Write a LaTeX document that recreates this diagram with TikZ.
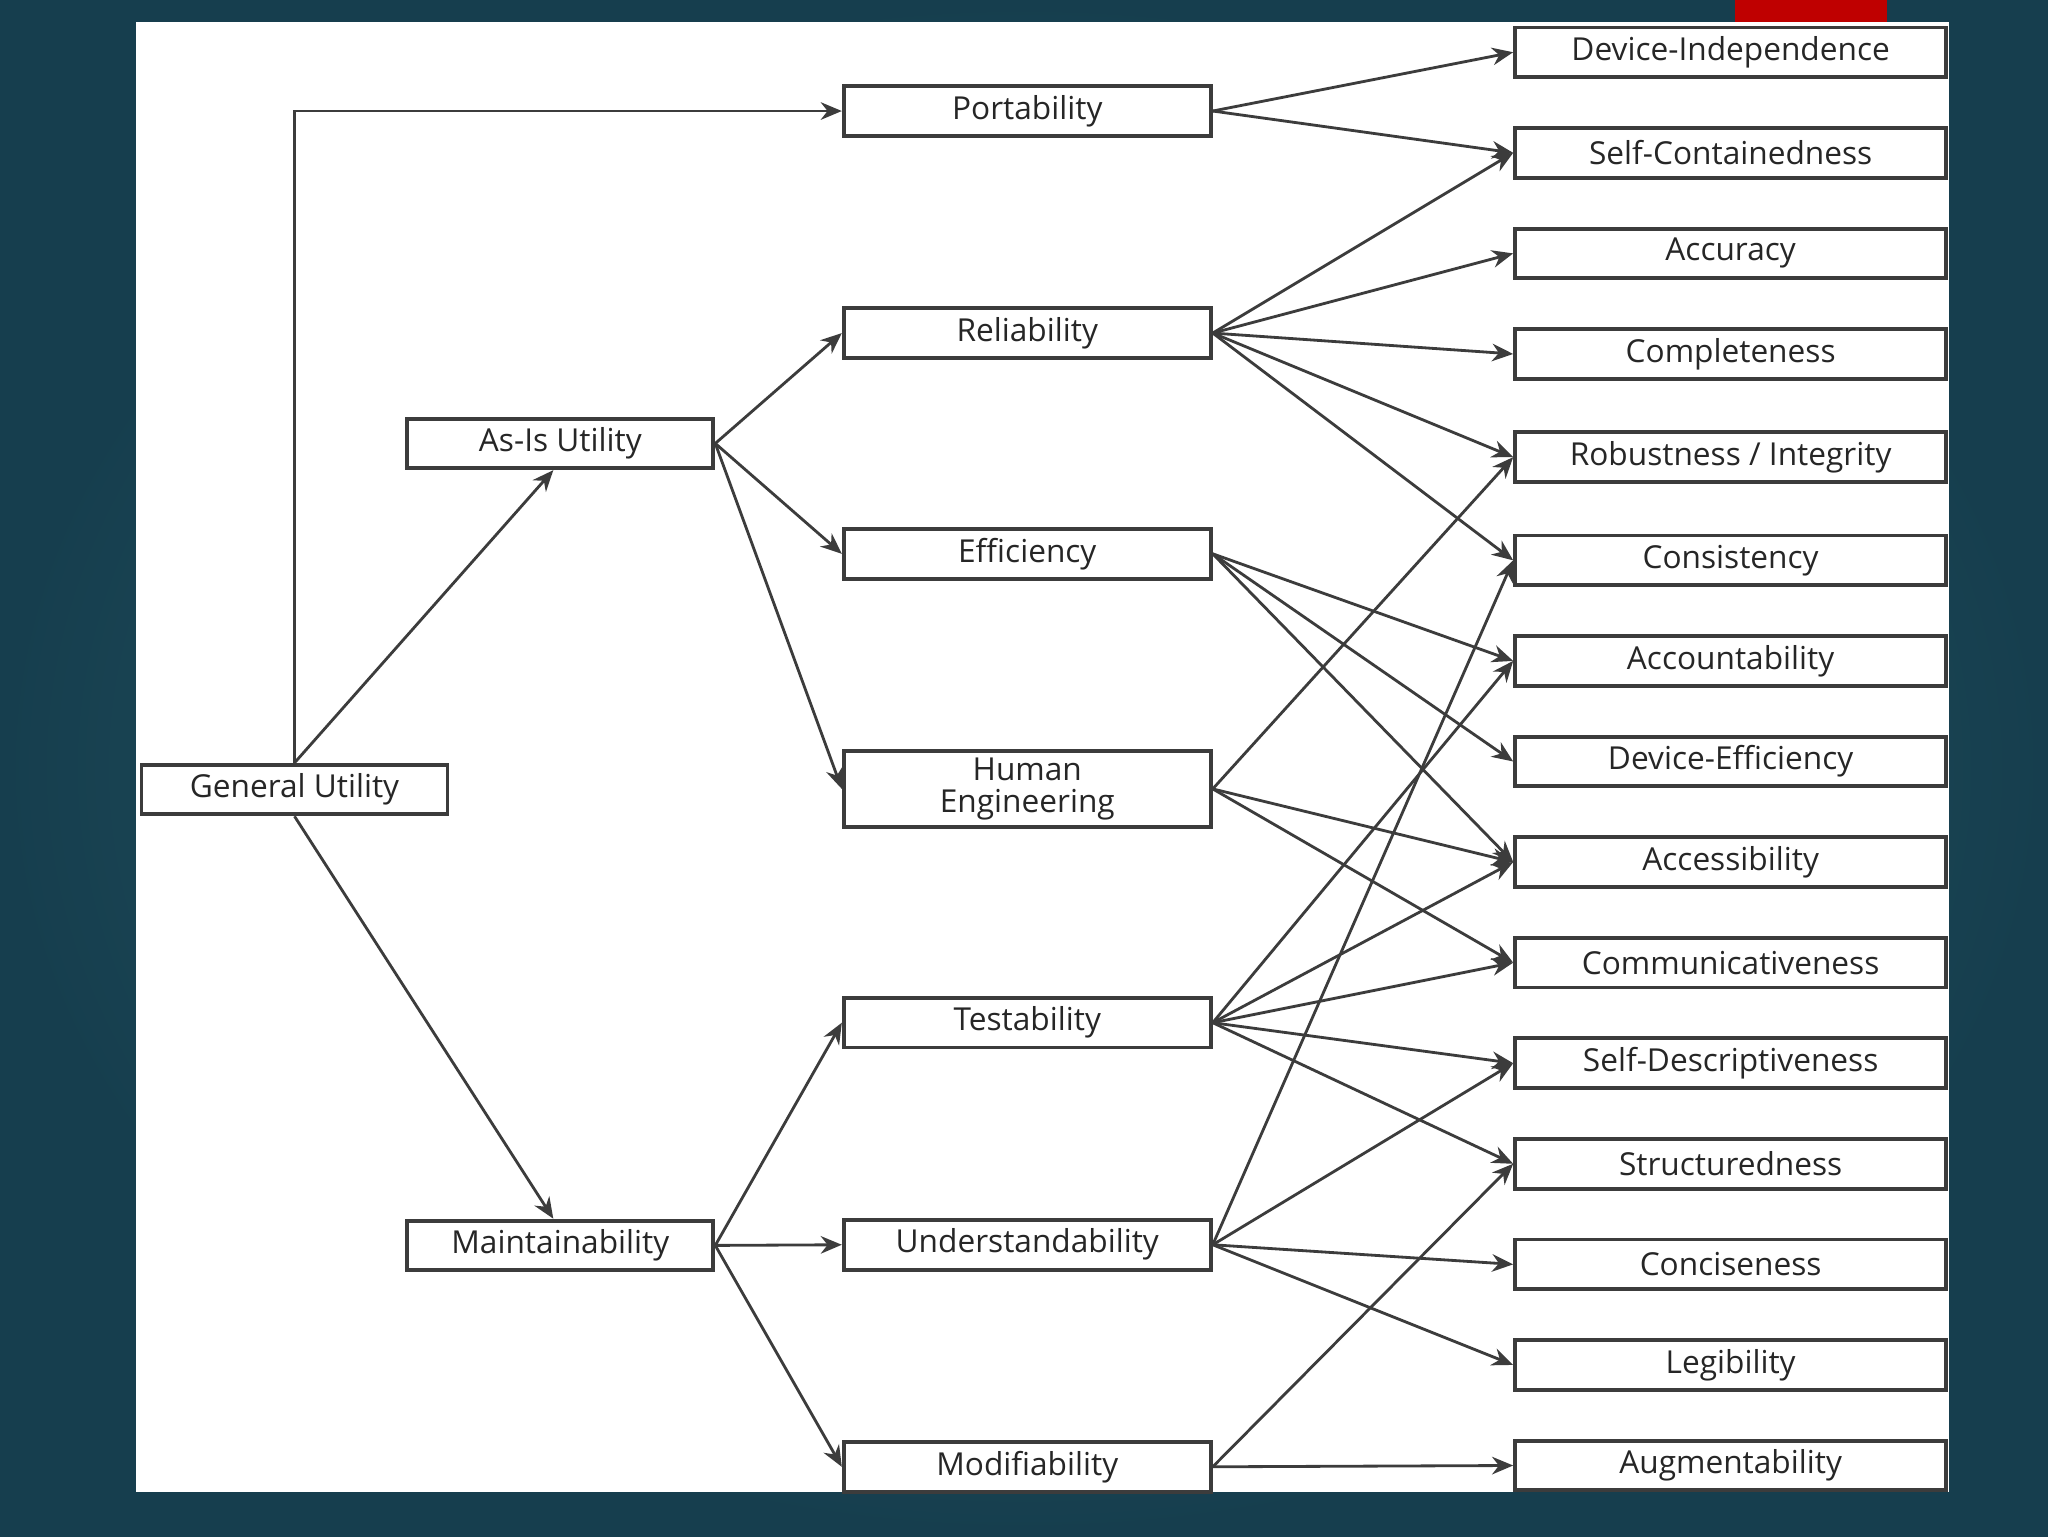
\documentclass[tikz,border=0pt]{standalone}
\usepackage{fontspec}
\setmainfont{Open Sans}
\usetikzlibrary{arrows.meta}
\definecolor{bgdark}{RGB}{22,62,78}
\definecolor{bglight}{RGB}{40,95,105}
\definecolor{edge}{RGB}{60,60,60}
\begin{document}
\begin{tikzpicture}[x=0.1306mm,y=-0.1306mm,
  box/.style={draw=edge,line width=1.1pt,fill=white,rectangle,inner sep=0pt,
    font=\fontsize{9}{10}\selectfont,text=black!85,align=center},
  lbox/.style={box,minimum width=30.6mm,minimum height=4.96mm},
  mbox/.style={box,minimum width=36.7mm,minimum height=4.96mm},
  rbox/.style={box,minimum width=43.1mm,minimum height=4.96mm},
  arr/.style={draw=edge,line width=0.8pt,-{Stealth[length=6pt,width=5pt]}}]
\useasboundingbox (0,0) rectangle (1568,1176);
\shade[inner color=bglight,outer color=bgdark] (0,0) rectangle (1568,1176);
\fill[white] (104,17) rectangle (1492,1142);
\fill[red!75!black] (1328,0) rectangle (1445,17);
% nodes
\node[lbox] (gu) at (225.5,604.5) {General Utility};
\node[lbox] (asis) at (429,339.5) {As-Is Utility};
\node[lbox] (maint) at (429,953.5) {Maintainability};
\node[mbox] (port) at (786.5,85) {Portability};
\node[mbox] (rel) at (786.5,255) {Reliability};
\node[mbox] (eff) at (786.5,424) {Efficiency};
\node[mbox,minimum height=7.6mm] (he) at (786.5,604) {Human\\[-1pt]Engineering};
\node[mbox] (test) at (786.5,783) {Testability};
\node[mbox] (und) at (786.5,953) {Understandability};
\node[mbox] (mod) at (786.5,1123) {Modifiability};
\node[rbox] (di) at (1325,40) {Device-Independence};
\node[rbox] (sc) at (1325,117) {Self-Containedness};
\node[rbox] (acc) at (1325,194) {Accuracy};
\node[rbox] (comp) at (1325,271) {Completeness};
\node[rbox] (rob) at (1325,350) {Robustness / Integrity};
\node[rbox] (cons) at (1325,429) {Consistency};
\node[rbox] (acct) at (1325,506) {Accountability};
\node[rbox] (deff) at (1325,583) {Device-Efficiency};
\node[rbox] (access) at (1325,660) {Accessibility};
\node[rbox] (comm) at (1325,737) {Communicativeness};
\node[rbox] (sd) at (1325,814) {Self-Descriptiveness};
\node[rbox] (struct) at (1325,891) {Structuredness};
\node[rbox] (conc) at (1325,968) {Conciseness};
\node[rbox] (leg) at (1325,1045) {Legibility};
\node[rbox] (aug) at (1325,1122) {Augmentability};
% left edges
\draw[arr] (gu.north) |- (port.west);
\draw[arr] (gu.north) -- ([xshift=-2pt]asis.south);
\draw[arr] (gu.south) -- ([xshift=-2pt]maint.north);
\foreach \t in {rel,eff,he} \draw[arr] (asis.east) -- (\t.west);
\foreach \t in {test,und,mod} \draw[arr] (maint.east) -- (\t.west);
% right edges
\foreach \t in {di,sc} \draw[arr] (port.east) -- (\t.west);
\foreach \t in {sc,acc,comp,rob,cons} \draw[arr] (rel.east) -- (\t.west);
\foreach \t in {acct,deff,access} \draw[arr] (eff.east) -- (\t.west);
\foreach \t in {rob,access,comm} \draw[arr] (he.east) -- (\t.west);
\foreach \t in {acct,access,comm,sd,struct} \draw[arr] (test.east) -- (\t.west);
\foreach \t in {cons,sd,conc,leg} \draw[arr] (und.east) -- (\t.west);
\foreach \t in {struct,aug} \draw[arr] (mod.east) -- (\t.west);
\end{tikzpicture}
\end{document}
